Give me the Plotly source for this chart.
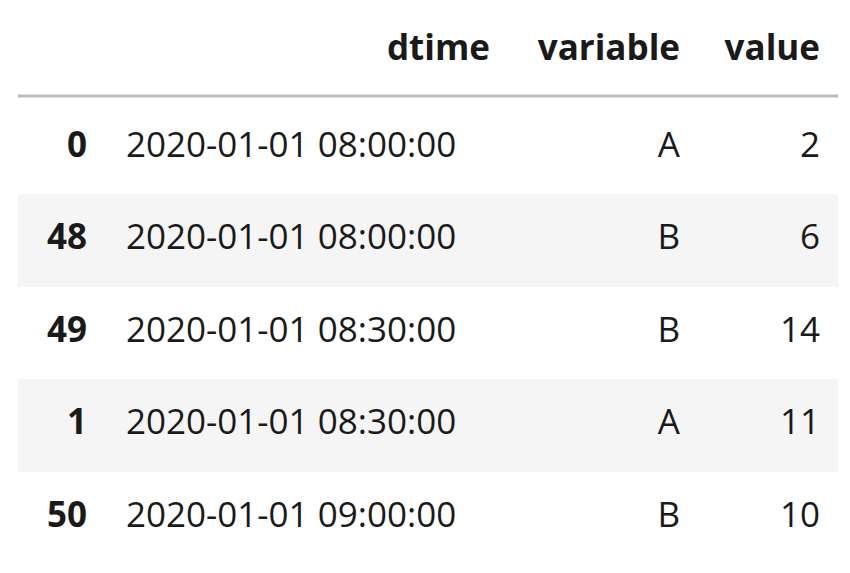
import plotly.graph_objects as go

index = ["0", "48", "49", "1", "50"]
dtime = ["2020-01-01 08:00:00", "2020-01-01 08:00:00", "2020-01-01 08:30:00",
         "2020-01-01 08:30:00", "2020-01-01 09:00:00"]
variable = ["A", "B", "B", "A", "B"]
value = [2, 6, 14, 11, 10]
headers = ["dtime", "variable", "value"]

W, H = 850, 573
HEAD_Y, ROW0, ROWH = 43, 140, 92.5
rows_y = [ROW0 + ROWH * i for i in range(len(index))]
FAM = "Open Sans, Noto Sans, sans-serif"
COL = "#1a1a1a"
SZ = 35

fig = go.Figure()
# shaded alternate rows
for i, y in enumerate(rows_y):
    if i % 2 == 1:
        fig.add_shape(type="rect", x0=10, x1=830, y0=y - ROWH / 2, y1=y + ROWH / 2,
                      fillcolor="#f5f5f5", line_width=0, layer="below")
fig.add_shape(type="line", x0=10, x1=830, y0=88, y1=88,
              line=dict(color="#bdbdbd", width=3))

def col(xs, ys, texts, pos, weight="normal"):
    fig.add_trace(go.Scatter(x=xs, y=ys, text=texts, mode="text", textposition=pos,
                             textfont=dict(family=FAM, size=SZ, color=COL, weight=weight),
                             hoverinfo="skip", showlegend=False))

n = len(index)
col([79] * n, rows_y, index, "middle left", "bold")
col([118] * n, rows_y, dtime, "middle right")
col([672] * n, rows_y, variable, "middle left")
col([812] * n, rows_y, [str(v) for v in value], "middle left")
col([482, 672, 812], [HEAD_Y] * 3, headers, "middle left", "bold")

fig.update_xaxes(range=[0, W], visible=False)
fig.update_yaxes(range=[H, 0], visible=False)
fig.update_layout(width=W, height=H, margin=dict(l=0, r=0, t=0, b=0),
                  paper_bgcolor="white", plot_bgcolor="white")
fig.write_html("out.html")
